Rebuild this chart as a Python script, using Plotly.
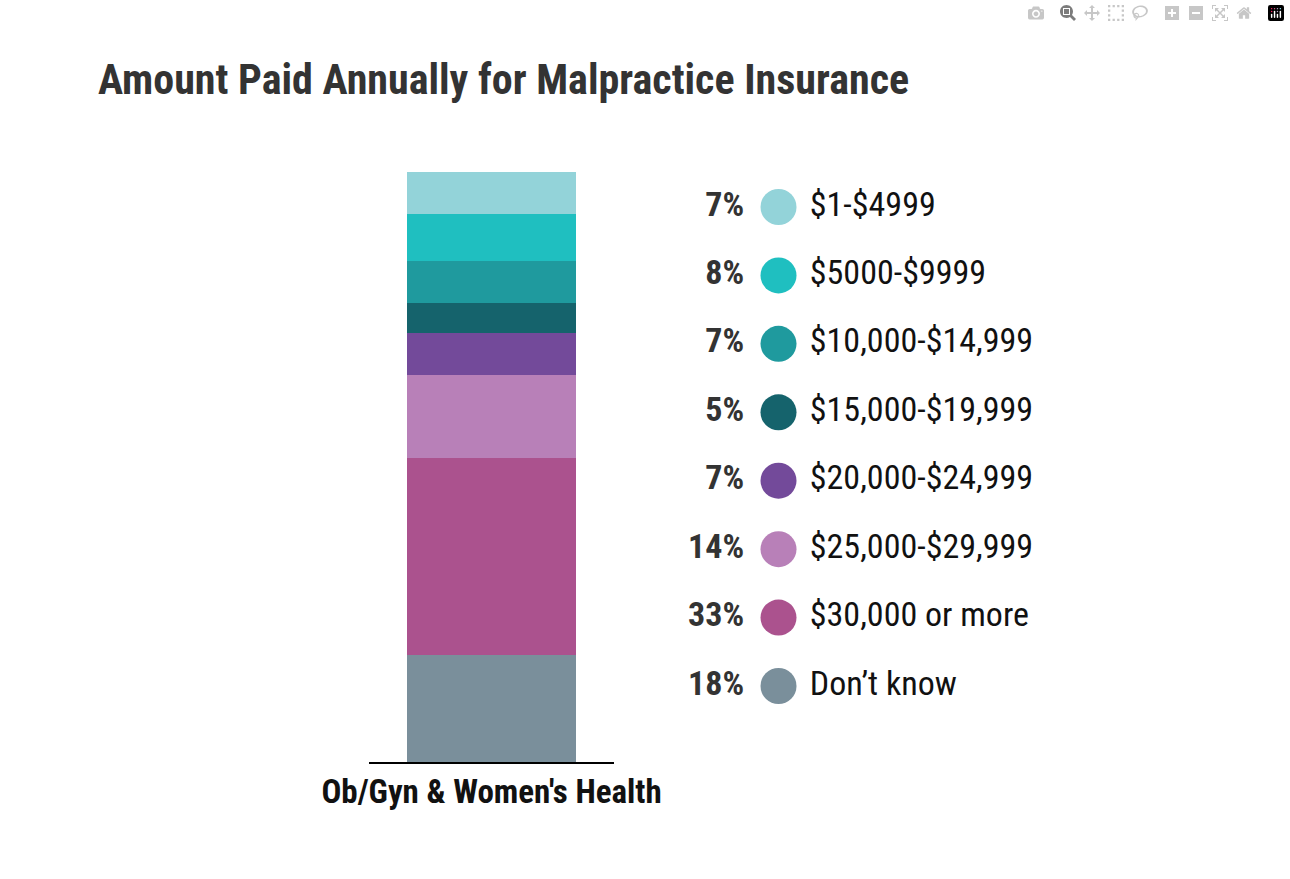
import plotly.graph_objects as go

categories = ["$1-$4999", "$5000-$9999", "$10,000-$14,999", "$15,000-$19,999",
              "$20,000-$24,999", "$25,000-$29,999", "$30,000 or more", "Don\u2019t know"]
values = [7, 8, 7, 5, 7, 14, 33, 18]
colors = ["#93D3D9", "#1FBFC0", "#1F9A9E", "#15636C", "#734A9A", "#B880B8", "#AB528E", "#7A8F9B"]
group = "Ob/Gyn & Women's Health"

FONT = "Roboto Condensed, Liberation Sans Narrow, Roboto"
W, H = 1290, 879
fig = go.Figure()
for cat, v, c in reversed(list(zip(categories, values, colors))):
    fig.add_trace(go.Bar(x=[group], y=[v], name=cat, marker=dict(color=c, line=dict(width=0)),
                         width=0.687, showlegend=False, hoverinfo="name+y"))

idx = list(range(len(categories)))
fig.add_trace(go.Scatter(x=[789]*len(idx), y=idx, mode="markers+text", xaxis="x2", yaxis="y2",
                         marker=dict(size=36, color=colors), text=[" " + c for c in categories],
                         textposition="middle right", cliponaxis=False,
                         textfont=dict(family=FONT, size=34, color="#111"), showlegend=False))
fig.add_trace(go.Scatter(x=[752]*len(idx), y=idx, mode="text", xaxis="x2", yaxis="y2",
                         text=[f"<b>{v}%</b>" for v in values], textposition="middle left", cliponaxis=False,
                         textfont=dict(family=FONT, size=34, color="#333"), showlegend=False))

fig.update_layout(
    width=W, height=H, margin=dict(l=0, r=0, t=0, b=0),
    paper_bgcolor="white", plot_bgcolor="white", barmode="stack", bargap=0,
    font=dict(family=FONT),
    xaxis=dict(domain=[347/W, 612/W], range=[-0.5, 0.5], showline=True, linecolor="#000", linewidth=1.5,
               ticks="", tickvals=[group], ticktext=[f"<b>{group}</b>"],
               tickfont=dict(family=FONT, size=33, color="#111"), showgrid=False),
    yaxis=dict(domain=[1-762/H, 1-172/H], range=[0, 99], visible=False, showgrid=False),
    xaxis2=dict(domain=[600/W, 1200/W], range=[600, 1200], visible=False, anchor="y2"),
    yaxis2=dict(domain=[1-686/H, 1-207/H], range=[7, 0], visible=False, anchor="x2"),
    annotations=[dict(text="<b>Amount Paid Annually for Malpractice Insurance</b>", x=53/W, y=1-80/H,
                      xref="paper", yref="paper", xanchor="left", yanchor="middle", showarrow=False,
                      font=dict(family=FONT, size=42, color="#333"))],
)
fig.write_html("out.html", post_script="document.body.style.margin='0';document.body.style.overflow='hidden';")
